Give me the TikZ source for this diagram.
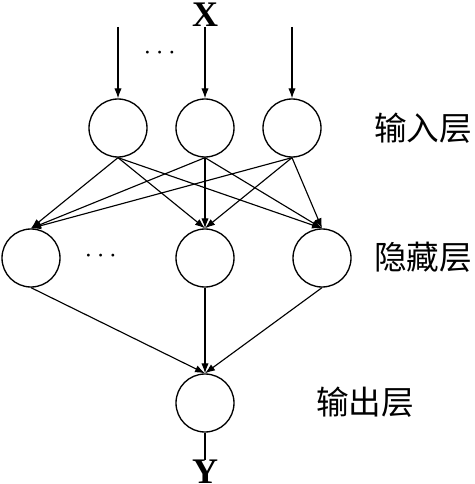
\documentclass[tikz,border=0pt]{standalone}
\usepackage{amsmath}
\usepackage{fontspec}
\setmainfont{Liberation Serif}
\newfontfamily\cjk{Noto Sans CJK SC}
\usepackage{tikz}
\usetikzlibrary{arrows.meta}

\begin{document}
\begin{tikzpicture}[x=0.75pt, y=-0.75pt,
        neuron/.style={circle, draw, line width=1pt, minimum size=43.5pt, inner sep=0},
        conn/.style={line width=0.85pt, -{Latex[length=7.5pt, width=5.5pt]}},
        layername/.style={font=\cjk\fontsize{24.5}{28}\selectfont, inner sep=0},
        varname/.style={font=\bfseries\fontsize{27}{30}\selectfont, inner sep=0}]
                \useasboundingbox (0,0) rectangle (474,484);

                \node[neuron](I1) at (118,128) {};
                \node[neuron](I2) at (205,128) {};
                \node[neuron](I3) at (292,128) {};
                \node[neuron](H1) at (31,258) {};
                \node[neuron](H2) at (205,258) {};
                \node[neuron](H3) at (322,258) {};
                \node[neuron](O) at (205,403) {};

                \node[varname](X) at (205,15) {X};
                \node[varname, anchor=north](Y) at (205,460) {Y};
                \coordinate (inLeft) at (118,27);
                \coordinate (inRight) at (292,27);

                \node(inDots) at (162,53) {\fontsize{21}{24}\selectfont$\cdots$};
                \node(hidDots) at (103,256) {\fontsize{21}{24}\selectfont$\cdots$};

                \node[layername](inLayer) at (423,128) {输入层};
                \node[layername](hidLayer) at (423,257) {隐藏层};
                \node[layername](outLayer) at (365,402) {输出层};

                                \draw[conn] (inLeft) -- (I1.north);
                                \draw[conn] (X.south) -- (I2.north);
                                \draw[conn] (inRight) -- (I3.north);

                                \foreach \i in {I1,I2,I3}
                                   \foreach \h in {H1,H2,H3}
                                      \draw[conn] (\i.south) -- (\h.north);

                                \foreach \h in {H1,H2,H3}
                                   \draw[conn] (\h.south) -- (O.north);

                                \draw[line width=0.85pt] (O.south) -- (Y.north);
\end{tikzpicture}
\end{document}
